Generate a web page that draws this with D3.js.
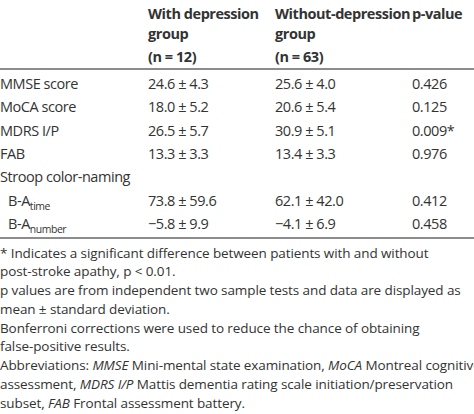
<!DOCTYPE html>
<html>
<head>
<meta charset="utf-8">
<script src="https://cdn.jsdelivr.net/npm/d3@7"></script>
<style>
  body { margin: 0; background: #fff; }
  text { font-family: "Open Sans", sans-serif; fill: #333; }
</style>
</head>
<body>
<svg id="table" width="474" height="414"></svg>
<script>
const headers = [["With depression", "group", "(n = 12)"], ["Without-depression", "group", "(n = 63)"], ["p-value", "", ""]];
const rowLabels = ["MMSE score", "MoCA score", "MDRS I/P", "FAB", "Stroop color-naming", "B-A|time", "B-A|number"];
const withDep = ["24.6 ± 4.3", "18.0 ± 5.2", "26.5 ± 5.7", "13.3 ± 3.3", "", "73.8 ± 59.6", "\u22125.8 ± 9.9"];
const withoutDep = ["25.6 ± 4.0", "20.6 ± 5.4", "30.9 ± 5.1", "13.4 ± 3.3", "", "62.1 ± 42.0", "\u22124.1 ± 6.9"];
const pValues = ["0.426", "0.125", "0.009*", "0.976", "", "0.412", "0.458"];
const footnotes = [
  "* Indicates a significant difference between patients with and without",
  "post-stroke apathy, p < 0.01.",
  "p values are from independent two sample tests and data are displayed as",
  "mean ± standard deviation.",
  "Bonferroni corrections were used to reduce the chance of obtaining",
  "false-positive results.",
  "Abbreviations: _MMSE_ Mini-mental state examination, _MoCA_ Montreal cognitive",
  "assessment, _MDRS I/P_ Mattis dementia rating scale initiation/preservation",
  "subset, _FAB_ Frontal assessment battery."
];

const svg = d3.select('#table');
const colX = [0, 148, 275, 412];
const fs = 14.5;
const ls = '-0.45px';

// header
const headerY = [14, 34, 57];
headers.forEach((lines, c) => {
  lines.forEach((t, i) => {
    svg.append('text').attr('x', colX[c + 1]).attr('y', headerY[i]).attr('dy', '0.35em')
      .attr('font-size', fs).attr('letter-spacing', ls).attr('font-weight', 'bold').text(t);
  });
});
svg.append('line').attr('x1', 0).attr('x2', 474).attr('y1', 69).attr('y2', 69)
  .attr('stroke', '#666').attr('stroke-width', 1.5);

const rowY = d3.scalePoint().domain(d3.range(rowLabels.length)).range([84, 224]);

rowLabels.forEach((lab, i) => {
  const y = rowY(i);
  const parts = lab.split('|');
  const t = svg.append('text').attr('x', i >= 5 ? 8 : 0).attr('y', y).attr('dy', '0.35em')
    .attr('font-size', fs).attr('letter-spacing', ls);
  t.append('tspan').text(parts[0]);
  if (parts[1]) t.append('tspan').attr('font-size', fs * 0.72).attr('dy', 4).text(parts[1]);
  [withDep, withoutDep, pValues].forEach((arr, c) => {
    svg.append('text').attr('x', colX[c + 1]).attr('y', y).attr('dy', '0.35em')
      .attr('font-size', fs).attr('letter-spacing', ls).text(arr[i]);
  });
});
svg.append('line').attr('x1', 0).attr('x2', 474).attr('y1', 238).attr('y2', 238)
  .attr('stroke', '#666').attr('stroke-width', 1.5);

const footY = d3.scalePoint().domain(d3.range(footnotes.length)).range([253, 403]);
footnotes.forEach((line, i) => {
  const t = svg.append('text').attr('x', 0).attr('y', footY(i)).attr('dy', '0.35em')
    .attr('font-size', 13.5).attr('letter-spacing', '-0.1px');
  line.split('_').forEach((seg, j) => {
    if (seg) t.append('tspan').attr('font-style', j % 2 ? 'italic' : 'normal').text(seg);
  });
});
</script>
</body>
</html>
